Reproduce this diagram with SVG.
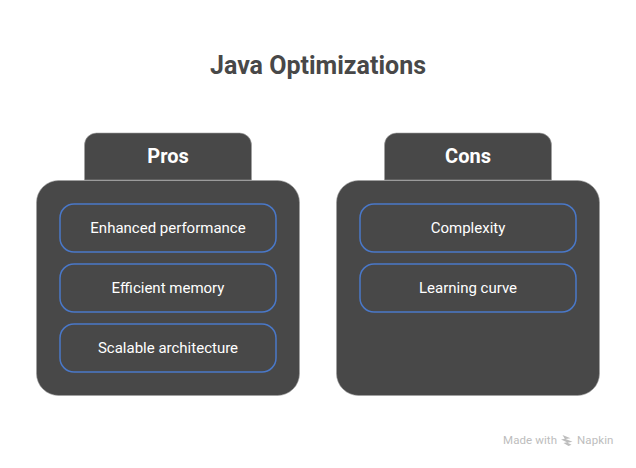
<svg xmlns="http://www.w3.org/2000/svg" width="636" height="468" viewBox="0 0 636 468">
<style>
text{font-family:Roboto,"Liberation Sans",sans-serif;text-anchor:middle}
.t{font-size:25px;font-weight:700;fill:#484848}
.h{font-size:20px;font-weight:700;fill:#fff}
.l{font-size:15px;font-weight:400;fill:#fff}
.m{font-size:11.500px;font-weight:400;fill:#bdbdbd;letter-spacing:.1px;text-anchor:start}
.p{fill:#484848;stroke:#a0a0a0;stroke-width:.6}
.b{fill:none;stroke:#4a78c8;stroke-width:1.500}
</style>
<rect width="636" height="468" fill="#fff"/>
<text class="t" x="318" y="74">Java Optimizations</text>
<g id="pros">
<path class="p" d="M84.500 180V145a12 12 0 0 1 12-12H239.500a12 12 0 0 1 12 12V180Z"/>
<rect class="p" x="36.500" y="180.500" width="263" height="215" rx="22"/>
<text class="h" x="168" y="163">Pros</text>
</g>
<g id="cons">
<path class="p" d="M384.500 180V145a12 12 0 0 1 12-12H539.500a12 12 0 0 1 12 12V180Z"/>
<rect class="p" x="336.500" y="180.500" width="263" height="215" rx="22"/>
<text class="h" x="468" y="163">Cons</text>
</g>
<g id="pro1"><rect class="b" x="60" y="204" width="216" height="48" rx="14"/><text class="l" x="168" y="233">Enhanced performance</text></g>
<g id="pro2"><rect class="b" x="60" y="264" width="216" height="48" rx="14"/><text class="l" x="168" y="293">Efficient memory</text></g>
<g id="pro3"><rect class="b" x="60" y="324" width="216" height="48" rx="14"/><text class="l" x="168" y="353">Scalable architecture</text></g>
<g id="con1"><rect class="b" x="360" y="204" width="216" height="48" rx="14"/><text class="l" x="468" y="233">Complexity</text></g>
<g id="con2"><rect class="b" x="360" y="264" width="216" height="48" rx="14"/><text class="l" x="468" y="293">Learning curve</text></g>
<g id="watermark"><text class="m" x="503" y="444">Made with</text>
<path d="M562.500 435l8 3.200-5 .8 7 2.800-5 .9 4 2-3 1.300-5-3 3.500-.8-6-2.800 3.800-.7Z" fill="#bdbdbd"/>
<text class="m" x="577" y="444">Napkin</text></g>
</svg>
